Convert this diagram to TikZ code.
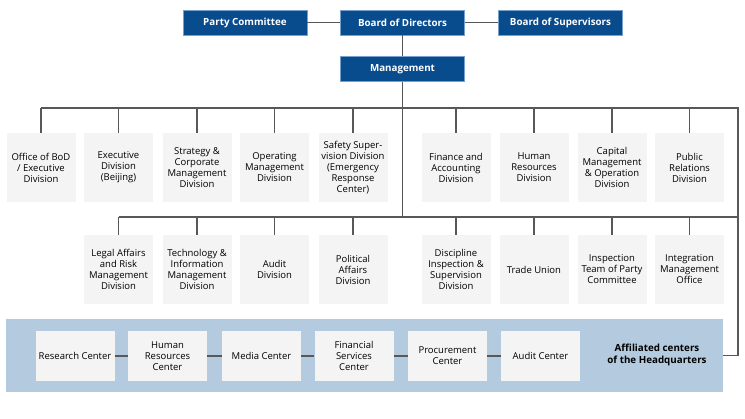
\documentclass[tikz,border=0pt]{standalone}
\usepackage{fontspec}
\setmainfont{Open Sans}
\usepackage{tikz}

\definecolor{hqblue}{RGB}{8,76,142}
\definecolor{hqedge}{RGB}{120,160,205}
\definecolor{deptgray}{RGB}{244,244,244}
\definecolor{bandblue}{RGB}{180,202,223}
\definecolor{linkgray}{RGB}{88,88,88}

\begin{document}
\begin{tikzpicture}[x=1pt, y=-1pt,
  hqbox/.style={draw=hqedge, line width=0.6pt, fill=hqblue, text=white, inner sep=0pt,
                minimum width=124pt, minimum height=25pt, font=\fontsize{9.8}{11.5}\selectfont\bfseries},
  deptbox/.style={fill=deptgray, inner sep=0pt, minimum width=69pt, minimum height=69pt,
                  align=center, font=\fontsize{9.5}{11}\selectfont},
  centerbox/.style={fill=deptgray, inner sep=0pt, minimum width=79pt, minimum height=50pt,
                    align=center, font=\fontsize{9.5}{11}\selectfont},
  link/.style={draw=linkgray, line width=1.2pt}]

  %% ════ top level ════
  \node[hqbox] (party) at (245,22.5) {Party Committee};
  \node[hqbox] (board) at (402.5,22.5) {Board of Directors};
  \node[hqbox] (superv) at (560.5,22.5) {Board of Supervisors};
  \node[hqbox] (mgmt) at (402.5,69) {Management};

  %% ════ first row of divisions ════
  \node[deptbox] (office) at (41,167.5) {Office of BoD\\/ Executive\\Division};
  \node[deptbox] (exec) at (118.5,167.5) {Executive\\Division\\(Beijing)};
  \node[deptbox] (strat) at (197,167.5) {Strategy \&\\Corporate\\Management\\Division};
  \node[deptbox] (oper) at (274.5,167.5) {Operating\\Management\\Division};
  \node[deptbox] (safety) at (353,167.5) {Safety Super-\\vision Division\\(Emergency\\Response\\Center)};
  \node[deptbox] (fin) at (456,167.5) {Finance and\\Accounting\\Division};
  \node[deptbox] (hr) at (534,167.5) {Human\\Resources\\Division};
  \node[deptbox] (capital) at (612,167.5) {Capital\\Management\\\& Operation\\Division};
  \node[deptbox] (public) at (689.5,167.5) {Public\\Relations\\Division};

  %% ════ second row of divisions ════
  \node[deptbox] (legal) at (118.5,269.5) {Legal Affairs\\and Risk\\Management\\Division};
  \node[deptbox] (tech) at (197,269.5) {Technology \&\\Information\\Management\\Division};
  \node[deptbox] (audit) at (274.5,269.5) {Audit\\Division};
  \node[deptbox] (polit) at (353,269.5) {Political\\Affairs\\Division};
  \node[deptbox] (disc) at (456,269.5) {Discipline\\Inspection \&\\Supervision\\Division};
  \node[deptbox] (union) at (534,269.5) {Trade Union};
  \node[deptbox] (inspect) at (612,269.5) {Inspection\\Team of Party\\Committee};
  \node[deptbox] (integ) at (689.5,269.5) {Integration\\Management\\Office};

  %% ════ affiliated centers ════
  \node[fill=bandblue, inner sep=0pt, minimum width=717pt, minimum height=73pt] (band) at (364.5,355.5) {};
  \node[centerbox] (research) at (75,356) {Research Center};
  \node[centerbox] (hrc) at (167.5,356) {Human\\Resources\\Center};
  \node[centerbox] (media) at (261.5,356) {Media Center};
  \node[centerbox] (finc) at (354,356) {Financial\\Services\\Center};
  \node[centerbox] (procure) at (447.5,356) {Procurement\\Center};
  \node[centerbox] (auditc) at (540.5,356) {Audit Center};
  \node[align=center, font=\fontsize{9.8}{11.5}\selectfont\bfseries] (affil) at (657,355) {Affiliated centers\\of the Headquarters};

  %% ════ connectors ════
  \coordinate (busA) at (0,108);
  \coordinate (busB) at (0,217);
  \coordinate (rail) at (738,0);

  \draw[link] (party) -- (board);
  \draw[link] (board) -- (superv);
  \draw[link] (board) -- (mgmt);
  \draw[link] (mgmt.south) -- (mgmt.south |- busB);

  \draw[link] (office.north |- busA) -- (rail |- busA) -- (rail |- band.east) -- (band.east);
  \draw[link] (legal.north |- busB) -- (rail |- busB);

  \draw[link] (office.north |- busA) -- (office.north);
  \draw[link] (exec.north |- busA) -- (exec.north);
  \draw[link] (strat.north |- busA) -- (strat.north);
  \draw[link] (oper.north |- busA) -- (oper.north);
  \draw[link] (safety.north |- busA) -- (safety.north);
  \draw[link] (fin.north |- busA) -- (fin.north);
  \draw[link] (hr.north |- busA) -- (hr.north);
  \draw[link] (capital.north |- busA) -- (capital.north);
  \draw[link] (public.north |- busA) -- (public.north);

  \draw[link] (legal.north |- busB) -- (legal.north);
  \draw[link] (tech.north |- busB) -- (tech.north);
  \draw[link] (audit.north |- busB) -- (audit.north);
  \draw[link] (polit.north |- busB) -- (polit.north);
  \draw[link] (disc.north |- busB) -- (disc.north);
  \draw[link] (union.north |- busB) -- (union.north);
  \draw[link] (inspect.north |- busB) -- (inspect.north);
  \draw[link] (integ.north |- busB) -- (integ.north);

  \draw[link] (research) -- (hrc);
  \draw[link] (hrc) -- (media);
  \draw[link] (media) -- (finc);
  \draw[link] (finc) -- (procure);
  \draw[link] (procure) -- (auditc);

  % fix the canvas to the reference size
  \pgfresetboundingbox
  \path[use as bounding box] (0,0) rectangle (745,419);
\end{tikzpicture}
\end{document}
